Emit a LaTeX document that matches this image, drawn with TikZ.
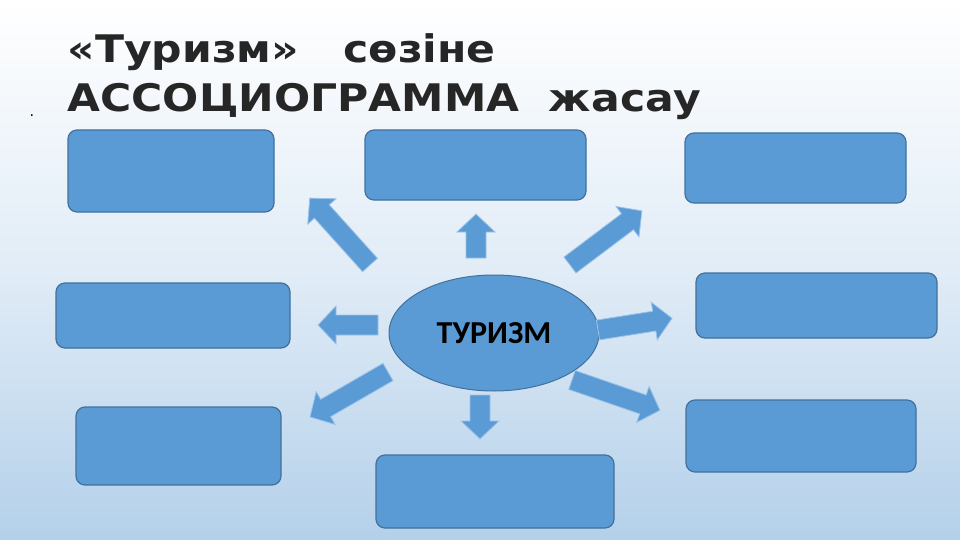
\documentclass[tikz,border=0pt]{standalone}
\usepackage{fontspec}
\setmainfont{DejaVu Sans}
\newfontfamily\titlef[FakeStretch=1.12]{DejaVu Sans}
\newfontfamily\carl{Carlito}
\usetikzlibrary{shapes.geometric}
\definecolor{boxblue}{HTML}{5B9BD5}
\definecolor{boxedge}{HTML}{41719C}
\definecolor{bgbot}{HTML}{B4D0EA}
\tikzset{
 box/.style={draw=boxedge,line width=1.2pt,fill=boxblue,rounded corners=9pt},
 barrowst/.style={draw=boxblue!60!white,line width=0.8pt,fill=boxblue},
}
\newcommand\barr[5]{%
 \begin{scope}[shift={(#2,#3)},rotate=#4]
 \coordinate (#1) at (0,0);
 \draw[barrowst] (0,-10)--({#5-18},-10)--({#5-18},-19)--(#5,0)--({#5-18},19)--({#5-18},10)--(0,10)--cycle;
 \end{scope}}
\begin{document}
\begin{tikzpicture}[x=1pt,y=-1pt]
\shade[top color=white,bottom color=bgbot,middle color=white!60!bgbot] (0,0) rectangle (960,540);
\useasboundingbox (0,0) rectangle (960,540);
\node[anchor=west,font=\titlef\bfseries\fontsize{38}{44}\selectfont,text=black!85] (t1) at (64,52) {«Туризм»\ \ \ сөзіне};
\node[anchor=west,font=\titlef\bfseries\fontsize{38}{44}\selectfont,text=black!85] (t2) at (64,101) {АССОЦИОГРАММА\ \ жасау};
\node[font=\Large] (dot) at (32,116) {.};
\draw[box] (68,130) rectangle (274,212);
\draw[box] (365,130) rectangle (586,200);
\draw[box] (685,133) rectangle (906,203);
\draw[box] (56,283) rectangle (290,348);
\draw[box] (696,273) rectangle (937,338);
\draw[box] (76,407) rectangle (281,485);
\draw[box] (376,455) rectangle (614,528);
\draw[box] (686,400) rectangle (916,472);
\node[ellipse,draw=boxedge,line width=1pt,fill=boxblue,minimum width=210pt,minimum height=116pt,inner sep=0pt,font=\carl\bfseries\fontsize{32}{34}\selectfont] (c) at (494,333) {ТУРИЗМ};
\barr{a1}{476}{258}{90}{44}
\barr{a2}{370}{265}{132}{90}
\barr{a3}{570}{265}{37}{90}
\barr{a4}{378}{325}{180}{60}
\barr{a5}{598}{330}{9}{75}
\barr{a6}{388}{372}{210}{90}
\barr{a7}{480}{395}{270}{44}
\barr{a8}{572}{380}{-19}{93}
\end{tikzpicture}
\end{document}
